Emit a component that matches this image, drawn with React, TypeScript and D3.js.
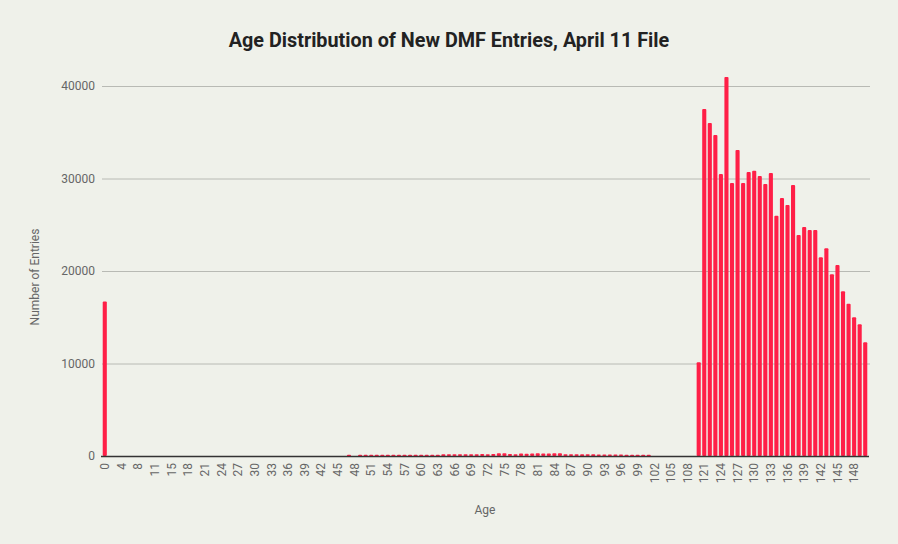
import React, { useEffect, useRef } from "react";
import * as d3 from "d3";

const title = "Age Distribution of New DMF Entries, April 11 File";

const ages: number[] = [
    0, 1, 2, 4, 5, 6, 8, 9, 10, 11, 12, 13,
    15, 16, 17, 18, 19, 20, 21, 22, 23, 24, 25, 26, 27, 28, 29, 30, 31, 32, 33, 34,
    35, 36, 37, 38, 39, 40, 41, 42, 43, 44, 45, 46, 47, 48, 49, 50, 51, 52, 53, 54,
    55, 56, 57, 58, 59, 60, 61, 62, 63, 64, 65, 66, 67, 68, 69, 70, 71, 72, 73, 74,
    75, 76, 77, 78, 79, 80, 81, 82, 83, 84, 85, 86, 87, 88, 89, 90, 91, 92, 93, 94,
    95, 96, 97, 98, 99, 100, 101, 102, 103, 104, 105, 106, 107, 108, 110, 120,
    121, 122, 123, 124, 125, 126, 127, 128, 129, 130, 131, 132, 133, 134, 135, 136,
    137, 138, 139, 140, 141, 142, 143, 144, 145, 146, 147, 148, 149, 150,
];

const entries: number[] = [
    16700, 0, 0, 0, 0, 0, 0, 0, 0, 0, 0, 0,
    // 15 - 34
    0, 0, 0, 0, 0, 0, 0, 0, 0, 0, 0, 0, 0, 0, 0, 0, 0, 0, 0, 0,
    // 35 - 54
    0, 0, 0, 0, 0, 0, 0, 0, 0, 0, 0, 0, 70, 0, 60, 70, 80, 70, 80, 80,
    // 55 - 74
    90, 80, 90, 90, 100, 90, 100, 100, 110, 180, 190, 190, 200, 190, 200, 200, 210, 200, 210, 300,
    // 75 - 94
    310, 220, 200, 280, 240, 270, 290, 280, 260, 300, 290, 200, 190, 190, 180, 190, 180, 170, 170, 160,
    // 95 - 120
    160, 150, 80, 70, 70, 60, 50, 0, 0, 0, 0, 0, 0, 0, 0, 10140,
    // 121 - 136
    37520, 36000, 34700, 30490, 40980, 29510, 33080, 29510, 30700, 30840, 30270, 29400, 30590, 25970, 27890, 27130,
    // 137 - 150
    29290, 23880, 24750, 24420, 24420, 21500, 22470, 19660, 20640, 17820, 16450, 15010, 14250, 12300,
];

const xTickLabels: string[] = [
    "0", "4", "8", "11", "15", "18", "21", "24", "27", "30", "33", "36", "39", "42", "45",
    "48", "51", "54", "57", "60", "63", "66", "69", "72", "75", "78", "81", "84", "87", "90",
    "93", "96", "99", "102", "105", "108", "121", "124", "127", "130", "133", "136", "139",
    "142", "145", "148",
];

const yTicks: number[] = [0, 10000, 20000, 30000, 40000];

const WIDTH = 898;
const HEIGHT = 544;

const AgeChart = () => {
    const svgRef = useRef<SVGSVGElement>(null);

    useEffect(() => {
        const margin = { top: 86, right: 30, bottom: 88, left: 102 };
        const innerWidth = WIDTH - margin.left - margin.right;
        const innerHeight = HEIGHT - margin.top - margin.bottom;

        const svg = d3.select(svgRef.current);
        svg.selectAll("*").remove();

        svg.append("rect")
            .attr("width", WIDTH)
            .attr("height", HEIGHT)
            .attr("fill", "#eff1ea");

        svg.append("text")
            .attr("x", WIDTH / 2)
            .attr("y", 47)
            .attr("text-anchor", "middle")
            .attr("font-family", "Roboto")
            .attr("font-weight", 700)
            .attr("font-size", 19.8)
            .attr("fill", "#222")
            .text(title);

        const g = svg.append("g")
            .attr("transform", `translate(${margin.left},${margin.top})`);

        const data = ages.map((a, i) => ({ age: String(a), value: entries[i] }));

        const x = d3.scaleBand()
            .domain(data.map((d) => d.age))
            .range([0, innerWidth])
            .paddingInner(0.26)
            .paddingOuter(0.13);

        const y = d3.scaleLinear()
            .domain([0, 40000])
            .range([innerHeight, 0]);

        // gridlines + y labels
        const yAxis = g.append("g")
            .call(d3.axisLeft(y).tickValues(yTicks).tickFormat(d3.format("d")).tickSize(-innerWidth - 2).tickPadding(7));
        yAxis.select(".domain").remove();
        yAxis.selectAll(".tick line")
            .attr("stroke", (d: any) => (d === 0 ? "none" : "#b8bab4"))
            .attr("stroke-width", 1);
        yAxis.selectAll(".tick text")
            .attr("font-family", "Roboto")
            .attr("font-size", 12)
            .attr("fill", "#666");

        // bars
        g.append("g")
            .selectAll("rect")
            .data(data.filter((d) => d.value > 0))
            .join("rect")
            .attr("x", (d) => x(d.age)!)
            .attr("y", (d) => Math.min(y(d.value), innerHeight - 1.2))
            .attr("width", x.bandwidth())
            .attr("height", (d) => Math.max(innerHeight - y(d.value), 1.2))
            .attr("rx", 1)
            .attr("fill", "#ff1f47");

        // baseline
        g.append("line")
            .attr("x1", -1)
            .attr("x2", innerWidth + 1)
            .attr("y1", innerHeight + 0.5)
            .attr("y2", innerHeight + 0.5)
            .attr("stroke", "#333")
            .attr("stroke-width", 1.3);

        // x axis labels
        const xAxis = g.append("g")
            .attr("transform", `translate(0, ${innerHeight})`)
            .call(d3.axisBottom(x).tickValues(xTickLabels).tickSize(0));
        xAxis.select(".domain").remove();
        xAxis.selectAll(".tick text")
            .attr("transform", "rotate(-90)")
            .attr("text-anchor", "end")
            .attr("x", -7)
            .attr("y", 0)
            .attr("dy", "0.35em")
            .attr("font-family", "Roboto")
            .attr("font-size", 12)
            .attr("fill", "#666");

        // axis titles
        svg.append("text")
            .attr("x", margin.left + innerWidth / 2)
            .attr("y", 514)
            .attr("text-anchor", "middle")
            .attr("font-family", "Roboto")
            .attr("font-size", 12)
            .attr("fill", "#666")
            .text("Age");

        svg.append("text")
            .attr("transform", `translate(39, ${margin.top + innerHeight / 2 + 6}) rotate(-90)`)
            .attr("text-anchor", "middle")
            .attr("font-family", "Roboto")
            .attr("font-size", 12)
            .attr("fill", "#666")
            .text("Number of Entries");
    }, []);

    return <svg ref={svgRef} width={WIDTH} height={HEIGHT} style={{ display: "block" }} />;
};

export default function App() {
    return (
        <div style={{ position: "absolute", left: 0, top: 0 }}>
            <AgeChart />
        </div>
    );
}
